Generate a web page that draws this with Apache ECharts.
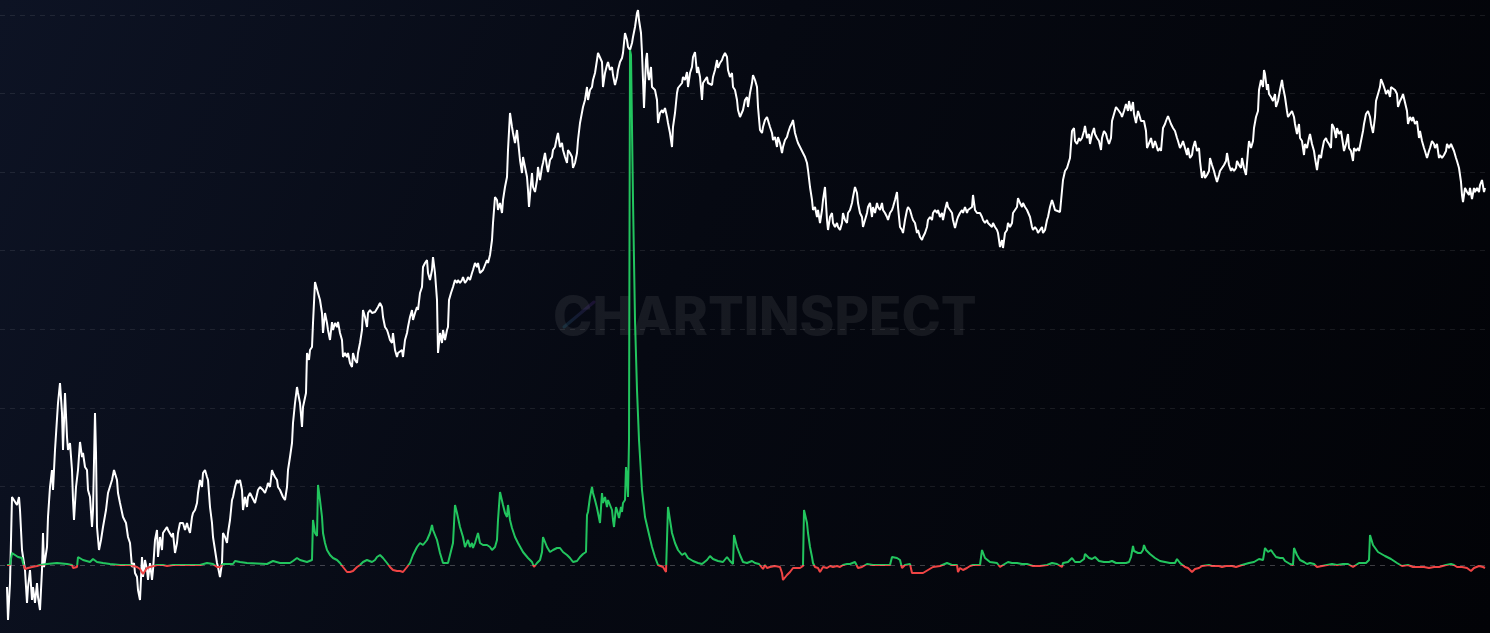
<!DOCTYPE html>
<html>
<head>
<meta charset="utf-8">
<script src="https://cdn.jsdelivr.net/npm/echarts@6/dist/echarts.min.js"></script>
<style>
html,body{margin:0;padding:0;background:#05070d;overflow:hidden;}
#chart{width:1490px;height:633px;}
</style>
</head>
<body>
<div id="chart"></div>
<script>
// [day, price] pairs (arbitrary price units)
const pricePoints = [[7,7.8],[8,4.5],[10,8.2],[12,16.8],[14,17.0],[17,16.0],[19,16.8],[20,15.5],[22,11.5],[25,9.5],[27,6.2],[28,7.8],[30,9.5],[32,6.5],[33,7.8],[35,6.2],[37,8.2],[38,6.8],[40,5.5],[42,9.5],[43,13.2],[44,9.8],[47,11.8],[48,14.8],[50,17.8],[52,19.5],[53,17.5],[55,21.5],[57,21.5],[58,26.2],[60,28.2],[62,25.2],[63,21.5],[65,27.2],[67,22.8],[68,21.5],[70,22.2],[72,19.5],[73,16.5],[74,14.5],[76,17.8],[78,19.5],[80,22.3],[82,20.8],[83,21.2],[85,19.8],[87,19.5],[88,17.5],[90,16.8],[92,13.8],[93,15.5],[95,25.2],[96,21.2],[97,13.8],[99,11.5],[101,12.5],[103,13.8],[106,15.5],[108,17.2],[112,18.5],[114,19.5],[117,18.5],[118,17.2],[120,16.2],[123,14.8],[126,14.2],[128,12.8],[130,12.2],[132,9.8],[134,10.2],[135,9.2],[137,8.8],[138,7.5],[140,6.5],[142,10.8],[143,8.8],[145,10.5],[147,9.5],[148,8.5],[150,10.2],[152,8.5],[153,9.5],[155,12.5],[157,13.5],[158,10.8],[160,12.8],[162,11.5],[163,13.2],[167,13.8],[168,13.5],[170,13.5],[172,12.8],[173,13.2],[175,11.2],[177,12.2],[178,13.2],[180,14.2],[183,14.2],[185,13.5],[187,14.2],[188,13.8],[190,13.2],[192,14.8],[193,15.2],[195,15.5],[197,16.2],[198,17.2],[200,18.5],[202,17.8],[203,19.2],[205,19.5],[207,18.8],[208,18.5],[210,15.8],[212,14.2],[213,12.8],[215,11.5],[217,10.2],[218,9.8],[220,8.8],[222,10.2],[223,13.2],[225,12.8],[227,12.2],[228,13.2],[230,14.5],[232,16.5],[233,16.8],[235,17.8],[237,18.5],[238,18.2],[240,18.5],[242,17.5],[243,15.5],[245,16.8],[247,15.8],[248,16.8],[250,17.2],[252,16.8],[255,16.2],[257,16.2],[258,17.5],[260,17.8],[263,17.5],[265,17.2],[267,17.8],[268,18.2],[270,17.8],[272,19.5],[273,19.2],[275,18.8],[277,18.5],[278,17.8],[280,17.5],[283,16.8],[285,16.5],[287,17.8],[288,19.5],[290,20.8],[292,22.2],[293,24.2],[295,26.2],[297,27.8],[298,27.2],[300,26.2],[302,23.8],[303,25.8],[306,27.2],[307,31.2],[309,30.5],[310,31.5],[312,31.8],[313,34.2],[315,38.3],[317,38.2],[318,37.2],[320,36.5],[322,35.2],[323,33.2],[325,35.2],[327,34.2],[328,33.5],[330,32.5],[332,34.3],[333,33.5],[335,34.2],[337,33.8],[338,34.3],[340,33.2],[342,32.5],[343,30.8],[345,31.2],[347,30.8],[348,31.2],[350,30.2],[352,29.8],[353,31.2],[355,30.5],[357,30.2],[358,31.2],[360,32.2],[362,33.5],[363,35.5],[365,34.8],[367,33.8],[368,35.2],[370,35.5],[372,35.2],[375,35.3],[377,35.5],[378,35.8],[380,36.2],[382,35.8],[383,34.8],[385,33.8],[387,33.5],[388,33.2],[390,32.5],[392,32.2],[393,33.2],[395,31.5],[397,30.8],[398,31.2],[400,31.2],[402,31.5],[403,30.8],[405,32.5],[407,33.2],[408,33.8],[410,34.8],[412,35.5],[413,34.5],[415,35.2],[417,35.8],[418,35.5],[420,37.2],[422,37.8],[423,39.8],[425,40.2],[427,40.5],[428,39.2],[430,38.5],[432,39.5],[433,40.8],[435,39.2],[437,36.5],[438,31.2],[440,33.2],[442,32.2],[443,33.5],[445,32.5],[447,33.5],[448,33.8],[449,36.5],[451,37.2],[452,37.5],[453,37.8],[455,38.5],[457,38.2],[458,38.5],[460,38.2],[462,38.5],[463,38.8],[465,38.2],[467,38.5],[468,38.8],[470,38.5],[472,39.2],[473,39.5],[475,40.2],[477,39.8],[478,40.2],[480,39.2],[482,39.2],[483,39.5],[485,40.0],[487,40.5],[488,40.2],[490,41.0],[492,42.5],[493,44.2],[494,45.5],[495,46.8],[497,46.5],[498,45.5],[500,46.2],[502,45.2],[503,46.5],[505,47.8],[507,48.8],[508,51.5],[510,55.2],[512,53.8],[513,53.2],[515,52.2],[517,53.5],[518,52.5],[520,50.5],[522,49.2],[523,50.8],[525,49.8],[527,48.8],[528,47.5],[529,45.8],[531,48.2],[532,49.2],[533,47.8],[535,47.3],[537,48.5],[538,49.8],[540,48.5],[542,49.8],[543,50.2],[545,51.2],[547,49.8],[548,49.3],[550,50.5],[552,50.8],[553,51.5],[555,51.8],[557,52.8],[558,53.2],[560,51.8],[562,52.2],[563,51.5],[565,50.8],[567,50.2],[568,51.5],[570,51.2],[572,50.8],[573,49.7],[575,50.2],[577,51.2],[578,52.5],[580,54.2],[583,55.8],[585,56.5],[587,57.8],[588,56.5],[590,57.5],[592,57.8],[593,58.5],[595,59.2],[597,60.5],[598,61.2],[600,61.2],[602,60.3],[603,57.8],[605,59.2],[607,60.0],[608,60.3],[610,59.5],[612,59.8],[613,59.0],[615,58.0],[617,58.8],[618,59.5],[620,60.3],[622,60.7],[623,61.2],[625,63.2],[627,62.5],[628,61.8],[630,61.5],[632,62.2],[633,62.8],[635,63.8],[637,65.2],[638,65.5],[639,64.5],[641,63.2],[642,61.2],[643,58.5],[644,55.7],[645,58.2],[646,60.5],[647,61.2],[648,59.2],[649,58.5],[651,59.8],[652,57.8],[653,57.8],[655,57.5],[657,56.5],[658,54.2],[660,55.2],[662,55.5],[663,55.2],[665,55.7],[667,54.8],[668,54.2],[670,53.2],[672,51.8],[673,53.8],[675,55.2],[677,57.2],[678,57.7],[680,57.8],[682,58.2],[683,58.8],[685,58.5],[687,59.3],[688,57.8],[690,59.2],[692,59.8],[693,60.8],[695,61.3],[697,59.2],[698,59.8],[700,58.8],[702,56.5],[703,58.2],[705,58.5],[707,58.8],[708,58.2],[710,58.3],[712,58.0],[713,58.8],[715,59.5],[717,60.5],[718,59.7],[720,60.2],[722,60.5],[723,60.8],[725,61.2],[726,61.3],[727,60.8],[728,59.5],[730,58.8],[732,59.2],[733,57.8],[735,57.5],[737,56.5],[738,55.5],[740,54.8],[742,54.7],[743,55.5],[745,56.5],[747,56.8],[748,55.8],[750,57.2],[752,58.2],[753,59.0],[755,58.5],[757,57.8],[758,55.8],[760,53.5],[762,53.2],[763,53.8],[765,54.5],[767,54.8],[768,55.0],[770,53.8],[772,53.2],[773,52.5],[775,52.8],[777,51.8],[778,52.8],[780,52.2],[782,51.2],[783,51.8],[785,52.5],[787,52.8],[788,53.2],[790,53.8],[792,54.2],[793,54.5],[795,53.2],[797,52.5],[798,52.2],[800,51.8],[802,51.8],[803,51.2],[805,50.8],[807,50.2],[808,49.5],[810,47.8],[812,46.5],[813,45.5],[815,45.8],[817,44.8],[818,45.5],[820,44.2],[822,45.5],[823,46.5],[825,47.8],[827,44.5],[828,43.5],[830,44.8],[832,45.2],[833,44.2],[835,43.8],[837,44.2],[838,43.8],[840,43.5],[842,44.2],[843,45.2],[845,44.5],[847,44.2],[848,45.2],[850,45.5],[852,46.2],[853,46.8],[855,47.8],[857,47.2],[858,46.2],[860,45.2],[862,44.8],[863,43.8],[865,44.5],[867,45.2],[868,45.8],[870,46.2],[872,44.8],[873,45.8],[875,45.2],[877,46.2],[878,45.8],[880,45.5],[882,46.2],[883,45.5],[885,45.2],[887,44.8],[888,44.5],[890,45.2],[892,45.5],[893,45.8],[895,46.5],[897,47.3],[898,45.8],[900,43.8],[902,43.5],[903,43.2],[905,44.5],[907,45.5],[908,45.8],[910,45.5],[912,44.8],[913,44.5],[915,44.2],[917,43.2],[918,43.5],[920,42.8],[922,42.5],[923,42.8],[925,43.2],[927,43.8],[928,44.5],[930,44.8],[932,44.5],[933,45.2],[935,45.5],[937,45.2],[938,45.5],[940,44.8],[942,45.2],[943,44.5],[945,45.5],[947,46.3],[948,45.8],[950,45.5],[952,45.2],[953,44.5],[955,43.7],[957,44.5],[958,44.8],[960,45.2],[962,45.5],[963,45.2],[965,45.8],[967,45.2],[968,45.5],[970,45.5],[972,45.8],[973,47.0],[975,45.5],[977,45.2],[980,45.2],[982,44.8],[983,44.5],[985,44.2],[987,44.5],[988,44.2],[990,44.2],[992,43.8],[993,44.2],[995,43.8],[997,43.5],[998,43.2],[1000,41.8],[1002,42.5],[1003,41.7],[1005,43.2],[1007,43.5],[1008,44.2],[1010,43.8],[1012,44.2],[1013,45.2],[1015,45.5],[1017,45.8],[1018,46.7],[1020,46.2],[1022,45.8],[1023,46.2],[1025,45.8],[1027,45.5],[1028,45.5],[1030,44.8],[1032,43.8],[1033,43.5],[1035,43.8],[1037,43.5],[1038,43.2],[1040,43.5],[1042,43.8],[1043,43.2],[1045,43.5],[1047,44.5],[1048,44.8],[1050,45.8],[1052,46.5],[1053,46.2],[1055,45.5],[1057,45.5],[1060,45.3],[1062,45.5],[1063,48.5],[1065,49.4],[1067,49.7],[1068,49.7],[1070,50.7],[1072,53.4],[1074,53.7],[1075,52.4],[1077,52.1],[1079,52.7],[1080,52.4],[1082,52.7],[1084,53.4],[1085,53.9],[1087,52.7],[1089,53.1],[1090,52.1],[1092,53.1],[1094,53.7],[1095,53.1],[1097,52.7],[1099,52.4],[1101,51.5],[1102,52.7],[1104,53.4],[1106,53.1],[1107,52.7],[1109,52.1],[1111,52.7],[1112,54.4],[1114,55.1],[1116,55.8],[1117,55.9],[1119,55.4],[1121,55.1],[1122,54.8],[1124,55.4],[1126,56.1],[1128,55.4],[1129,56.4],[1131,55.4],[1133,56.3],[1134,55.1],[1136,54.2],[1138,55.4],[1139,55.1],[1141,54.4],[1144,54.4],[1146,53.4],[1147,51.7],[1149,51.5],[1150,52.4],[1151,52.7],[1153,51.7],[1155,52.4],[1156,52.1],[1158,51.4],[1160,51.7],[1161,51.4],[1163,53.7],[1165,54.1],[1166,54.4],[1168,54.9],[1170,54.8],[1171,54.1],[1173,53.7],[1175,53.4],[1177,52.7],[1178,52.4],[1180,51.7],[1182,52.1],[1183,52.4],[1185,51.7],[1187,51.0],[1188,51.7],[1190,50.7],[1192,51.0],[1193,51.7],[1195,52.4],[1197,51.4],[1199,51.7],[1200,50.4],[1202,48.7],[1204,49.4],[1205,48.7],[1207,49.0],[1209,49.4],[1210,50.7],[1212,50.0],[1214,49.4],[1215,49.0],[1217,48.3],[1219,49.0],[1220,49.4],[1222,49.7],[1224,50.0],[1226,50.4],[1227,51.2],[1229,50.0],[1231,49.4],[1232,49.7],[1234,49.4],[1236,49.7],[1237,50.4],[1239,50.0],[1241,49.7],[1242,50.7],[1244,49.7],[1246,49.0],[1248,51.4],[1249,52.4],[1251,51.7],[1253,52.4],[1254,53.7],[1256,54.8],[1258,55.4],[1259,57.5],[1261,58.5],[1263,57.8],[1264,59.5],[1265,59.1],[1267,57.5],[1268,58.1],[1269,57.1],[1271,56.8],[1273,56.4],[1275,57.1],[1276,55.8],[1278,56.4],[1280,57.5],[1282,58.5],[1283,57.8],[1285,56.8],[1287,55.4],[1288,54.8],[1290,55.1],[1292,55.4],[1294,54.8],[1295,54.1],[1297,53.1],[1299,54.1],[1300,52.7],[1302,52.4],[1304,51.0],[1305,52.1],[1307,51.7],[1309,52.7],[1310,53.1],[1312,52.1],[1314,51.4],[1315,50.7],[1317,49.5],[1319,51.0],[1321,50.7],[1322,51.4],[1324,52.4],[1326,52.7],[1327,52.4],[1329,52.1],[1331,51.7],[1332,54.1],[1334,53.7],[1336,52.7],[1337,53.7],[1339,53.1],[1341,53.4],[1343,52.1],[1344,51.4],[1346,52.1],[1348,53.1],[1349,51.7],[1351,51.4],[1353,50.4],[1354,51.7],[1356,51.4],[1358,51.7],[1359,51.4],[1361,52.4],[1363,53.4],[1364,54.1],[1366,55.1],[1368,55.4],[1370,54.8],[1371,54.1],[1373,53.2],[1375,54.8],[1376,56.4],[1378,57.1],[1380,57.8],[1381,58.6],[1383,58.1],[1385,57.5],[1386,57.1],[1388,57.5],[1390,56.8],[1391,57.8],[1393,57.8],[1395,57.5],[1397,57.1],[1398,55.8],[1400,56.4],[1402,56.8],[1403,57.1],[1405,57.1],[1407,55.4],[1408,54.1],[1410,54.8],[1412,54.4],[1413,54.8],[1415,54.1],[1417,54.4],[1419,52.7],[1420,53.4],[1422,52.4],[1424,51.7],[1425,51.4],[1427,50.7],[1429,51.4],[1430,51.7],[1432,52.4],[1434,52.1],[1435,51.7],[1437,52.1],[1439,50.7],[1440,51.0],[1442,50.7],[1444,51.0],[1446,51.4],[1447,52.1],[1449,51.7],[1451,52.1],[1452,52.1],[1454,51.4],[1456,50.7],[1457,50.4],[1459,49.7],[1461,48.3],[1462,47.0],[1463,46.3],[1465,47.7],[1467,47.3],[1469,47.0],[1470,47.7],[1472,46.6],[1474,47.7],[1475,47.3],[1477,47.7],[1479,47.3],[1480,48.0],[1482,48.5],[1484,47.3],[1485,47.7]];

// [day, oscillator] pairs (green above zero, red below)
const oscPoints = [[7,0],[10,0],[12,1.2],[15,1.0],[18,0.8],[22,0.7],[23,0.2],[25,-0.4],[28,-0.3],[32,-0.2],[37,-0.1],[40,0],[47,0.1],[57,0.2],[67,0.1],[72,0],[73,-0.3],[77,-0.2],[78,0.8],[80,0.9],[83,0.5],[90,0.3],[93,0.6],[97,0.3],[103,0.2],[110,0.1],[120,0],[130,0],[132,-0.2],[137,-0.2],[140,-0.4],[143,-0.9],[147,-0.3],[150,-0.2],[157,0],[163,0],[167,-0.1],[173,0],[200,0],[207,0.2],[213,0.1],[217,-0.2],[220,-0.2],[223,0.1],[233,0.1],[235,0.4],[240,0.3],[247,0.2],[267,0.1],[273,0.4],[280,0.2],[290,0.2],[293,0.4],[297,0.7],[300,0.5],[307,0.3],[312,0.5],[313,4.5],[315,3.2],[317,2.9],[318,8.0],[320,6.5],[322,4.8],[323,3.2],[325,2.2],[327,1.5],[330,1.0],[333,0.7],[337,0.5],[340,0.2],[343,-0.2],[347,-0.7],[350,-0.7],[353,-0.6],[357,-0.2],[360,0],[363,0.3],[367,0.5],[372,0.3],[375,0.5],[377,0.8],[380,1.0],[383,0.7],[387,0.2],[390,-0.2],[393,-0.5],[397,-0.6],[400,-0.6],[403,-0.7],[407,-0.2],[410,0.2],[413,1.0],[417,1.8],[420,2.2],[423,2.0],[427,2.5],[430,3.2],[432,4.0],[433,3.5],[437,2.5],[440,1.2],[443,0.2],[448,0.2],[450,0.3],[453,2.2],[455,6.0],[457,5.2],[460,3.8],[463,2.8],[465,1.8],[468,2.5],[470,1.8],[472,2.2],[473,1.7],[475,2.2],[477,2.0],[478,3.2],[480,2.2],[483,2.0],[487,2.0],[490,1.8],[492,1.5],[495,1.8],[497,2.5],[498,4.5],[500,7.3],[503,6.0],[505,5.2],[507,4.8],[508,6.0],[510,4.5],[512,3.7],[515,2.8],[518,2.2],[523,1.3],[528,0.7],[532,0.3],[534,-0.2],[537,0.2],[540,0.5],[542,1.3],[543,2.8],[545,2.3],[547,1.8],[550,1.3],[553,1.5],[557,1.7],[560,1.7],[563,1.3],[567,1.0],[570,0.7],[573,0.3],[577,0.4],[580,0.8],[583,1.1],[586,1.3],[587,5.0],[588,5.3],[590,6.8],[592,7.8],[593,7.2],[595,6.5],[597,5.7],[598,5.2],[600,4.2],[602,7.2],[603,6.2],[605,6.8],[607,5.8],[608,6.5],[610,6.7],[612,5.5],[613,4.5],[614,3.8],[616,5.8],[617,5.5],[619,4.7],[621,5.8],[622,5.3],[623,6.2],[625,6.5],[626,9.8],[627,8.8],[628,6.8],[629,12.5],[630,51.5],[631,51.0],[633,36.5],[635,24.5],[637,17.5],[639,12.5],[642,7.5],[645,4.8],[648,3.5],[652,1.8],[655,0.8],[658,0],[660,-0.1],[663,-0.2],[666,-0.7],[667,-0.5],[668,5.8],[670,4.5],[672,3.2],[675,2.2],[678,1.5],[682,1.0],[685,1.2],[688,0.7],[693,0.4],[698,0.2],[702,0.1],[703,0.2],[707,0.5],[710,0.9],[713,0.6],[718,0.4],[723,0.3],[727,0.8],[730,0.4],[733,0.1],[734,3.0],[737,1.8],[740,1.0],[743,0.3],[747,0.2],[752,0.4],[755,0.2],[759,0.1],[761,-0.1],[763,-0.4],[765,0],[767,-0.3],[770,-0.2],[775,-0.1],[780,-0.2],[782,-0.8],[783,-1.5],[787,-1.0],[790,-0.7],[793,-0.3],[800,-0.3],[803,-0.1],[804,5.5],[807,4.2],[808,3.2],[810,1.8],[812,0.8],[813,0.2],[815,-0.2],[818,-0.3],[820,-0.7],[823,-0.2],[827,-0.3],[830,-0.1],[833,-0.2],[837,-0.1],[840,-0.2],[843,0],[847,0.1],[850,0.1],[855,0.3],[858,-0.3],[862,-0.2],[867,0.1],[873,0],[890,0],[892,0.8],[897,0.7],[900,0.5],[902,-0.3],[905,0],[910,0.1],[912,-0.8],[917,-0.8],[923,-0.8],[928,-0.5],[933,-0.2],[940,-0.1],[947,0.2],[952,0],[957,0],[958,-0.7],[960,-0.3],[963,-0.5],[967,-0.3],[970,-0.1],[973,0],[980,0],[982,1.5],[985,0.7],[990,0.3],[997,0.2],[1000,-0.2],[1003,0],[1008,0.3],[1012,0.2],[1017,0.2],[1022,0.1],[1027,0.1],[1033,-0.1],[1040,-0.1],[1047,0],[1052,0.2],[1057,0.1],[1062,-0.2],[1063,0.2],[1068,0.3],[1072,0.7],[1075,0.3],[1080,0.3],[1084,0.6],[1085,1.1],[1089,0.7],[1092,0.6],[1095,0.8],[1099,0.4],[1104,0.3],[1109,0.3],[1112,0.4],[1116,0.2],[1121,0.2],[1126,0.2],[1129,0.3],[1131,0.8],[1133,1.9],[1134,1.4],[1138,1.2],[1141,1.2],[1143,1.5],[1144,2.0],[1146,1.5],[1150,1.1],[1155,0.7],[1160,0.4],[1165,0.3],[1170,0.2],[1175,0.2],[1177,0.6],[1180,0.2],[1182,0],[1185,-0.2],[1188,-0.3],[1192,-0.7],[1195,-0.4],[1199,-0.3],[1202,-0.1],[1209,0],[1210,0.2],[1212,-0.1],[1219,-0.1],[1222,-0.2],[1226,-0.1],[1232,-0.1],[1236,-0.2],[1242,0],[1244,0.2],[1249,0.2],[1254,0.3],[1259,0.6],[1263,0.5],[1265,1.7],[1268,1.3],[1271,1.5],[1273,1.2],[1276,0.8],[1280,0.7],[1283,0.7],[1285,0.4],[1290,0.1],[1293,0],[1294,1.7],[1297,1.0],[1300,0.5],[1304,0.3],[1307,0.1],[1310,0.2],[1314,0.1],[1317,-0.2],[1322,-0.1],[1327,0],[1332,0.1],[1337,0],[1343,0.1],[1348,0.1],[1353,-0.2],[1356,0],[1359,0.2],[1366,0.2],[1369,0.5],[1370,3.0],[1373,2.0],[1378,1.3],[1385,0.9],[1391,0.6],[1397,0.2],[1402,-0.1],[1408,0],[1413,-0.2],[1419,-0.2],[1424,-0.2],[1429,-0.3],[1434,-0.2],[1439,-0.2],[1446,0],[1451,0.1],[1454,0],[1457,-0.2],[1462,-0.2],[1467,-0.3],[1471,-0.6],[1474,-0.3],[1479,-0.1],[1483,-0.2],[1485,-0.3]];

const watermarkText = 'CHARTINSPECT';

const chart = echarts.init(document.getElementById('chart'), null, {renderer: 'canvas', width: 1490, height: 633});

chart.setOption({
  animation: false,
  backgroundColor: {
    type: 'linear', x: 0, y: 0, x2: 1, y2: 1,
    colorStops: [
      {offset: 0, color: '#0d1324'},
      {offset: 0.45, color: '#060912'},
      {offset: 1, color: '#020307'}
    ]
  },
  grid: {left: 0, right: 0, top: 15, bottom: 68},
  xAxis: {type: 'value', min: 0, max: 1490, show: false},
  yAxis: [
    {
      type: 'value', min: 0, max: 7, interval: 1, position: 'left',
      axisLine: {show: false}, axisTick: {show: false}, axisLabel: {show: false},
      splitLine: {show: true, lineStyle: {color: 'rgba(255,255,255,0.085)', type: [5, 5], width: 1}}
    },
    {type: 'value', min: 10, max: 65, position: 'left', show: false},
    {type: 'value', min: 0, max: 55, position: 'right', show: false}
  ],
  visualMap: {
    show: false, type: 'piecewise', seriesIndex: 1, dimension: 1,
    pieces: [
      {gte: -100, lt: 0, color: '#ef4444'},
      {gte: 0, lte: 100, color: '#22c55e'}
    ]
  },
  graphic: [
    {
      type: 'text', left: 553, top: 293, z: 0, silent: true,
      style: {text: watermarkText, font: '800 53px Inter', fill: 'rgba(255,255,255,0.07)'}
    },
    {
      type: 'line', z: 0, silent: true,
      shape: {x1: 564, y1: 327, x2: 594, y2: 302},
      style: {
        lineWidth: 3, lineCap: 'round',
        stroke: {type: 'linear', x: 0, y: 1, x2: 1, y2: 0, colorStops: [
          {offset: 0, color: 'rgba(30,120,140,0.25)'},
          {offset: 1, color: 'rgba(110,40,170,0.2)'}
        ]}
      }
    }
  ],
  series: [
    {
      name: 'Price', type: 'line', yAxisIndex: 1, data: pricePoints,
      symbol: 'none', clip: false, z: 3,
      lineStyle: {color: '#ffffff', width: 2}
    },
    {
      name: 'Oscillator', type: 'line', yAxisIndex: 2, data: oscPoints,
      symbol: 'none', clip: false, z: 4,
      lineStyle: {width: 2},
      markLine: {
        silent: true, symbol: 'none', label: {show: false},
        lineStyle: {color: 'rgba(255,255,255,0.16)', type: [5, 5], width: 1},
        data: [{yAxis: 0}]
      }
    }
  ]
});
</script>
</body>
</html>
